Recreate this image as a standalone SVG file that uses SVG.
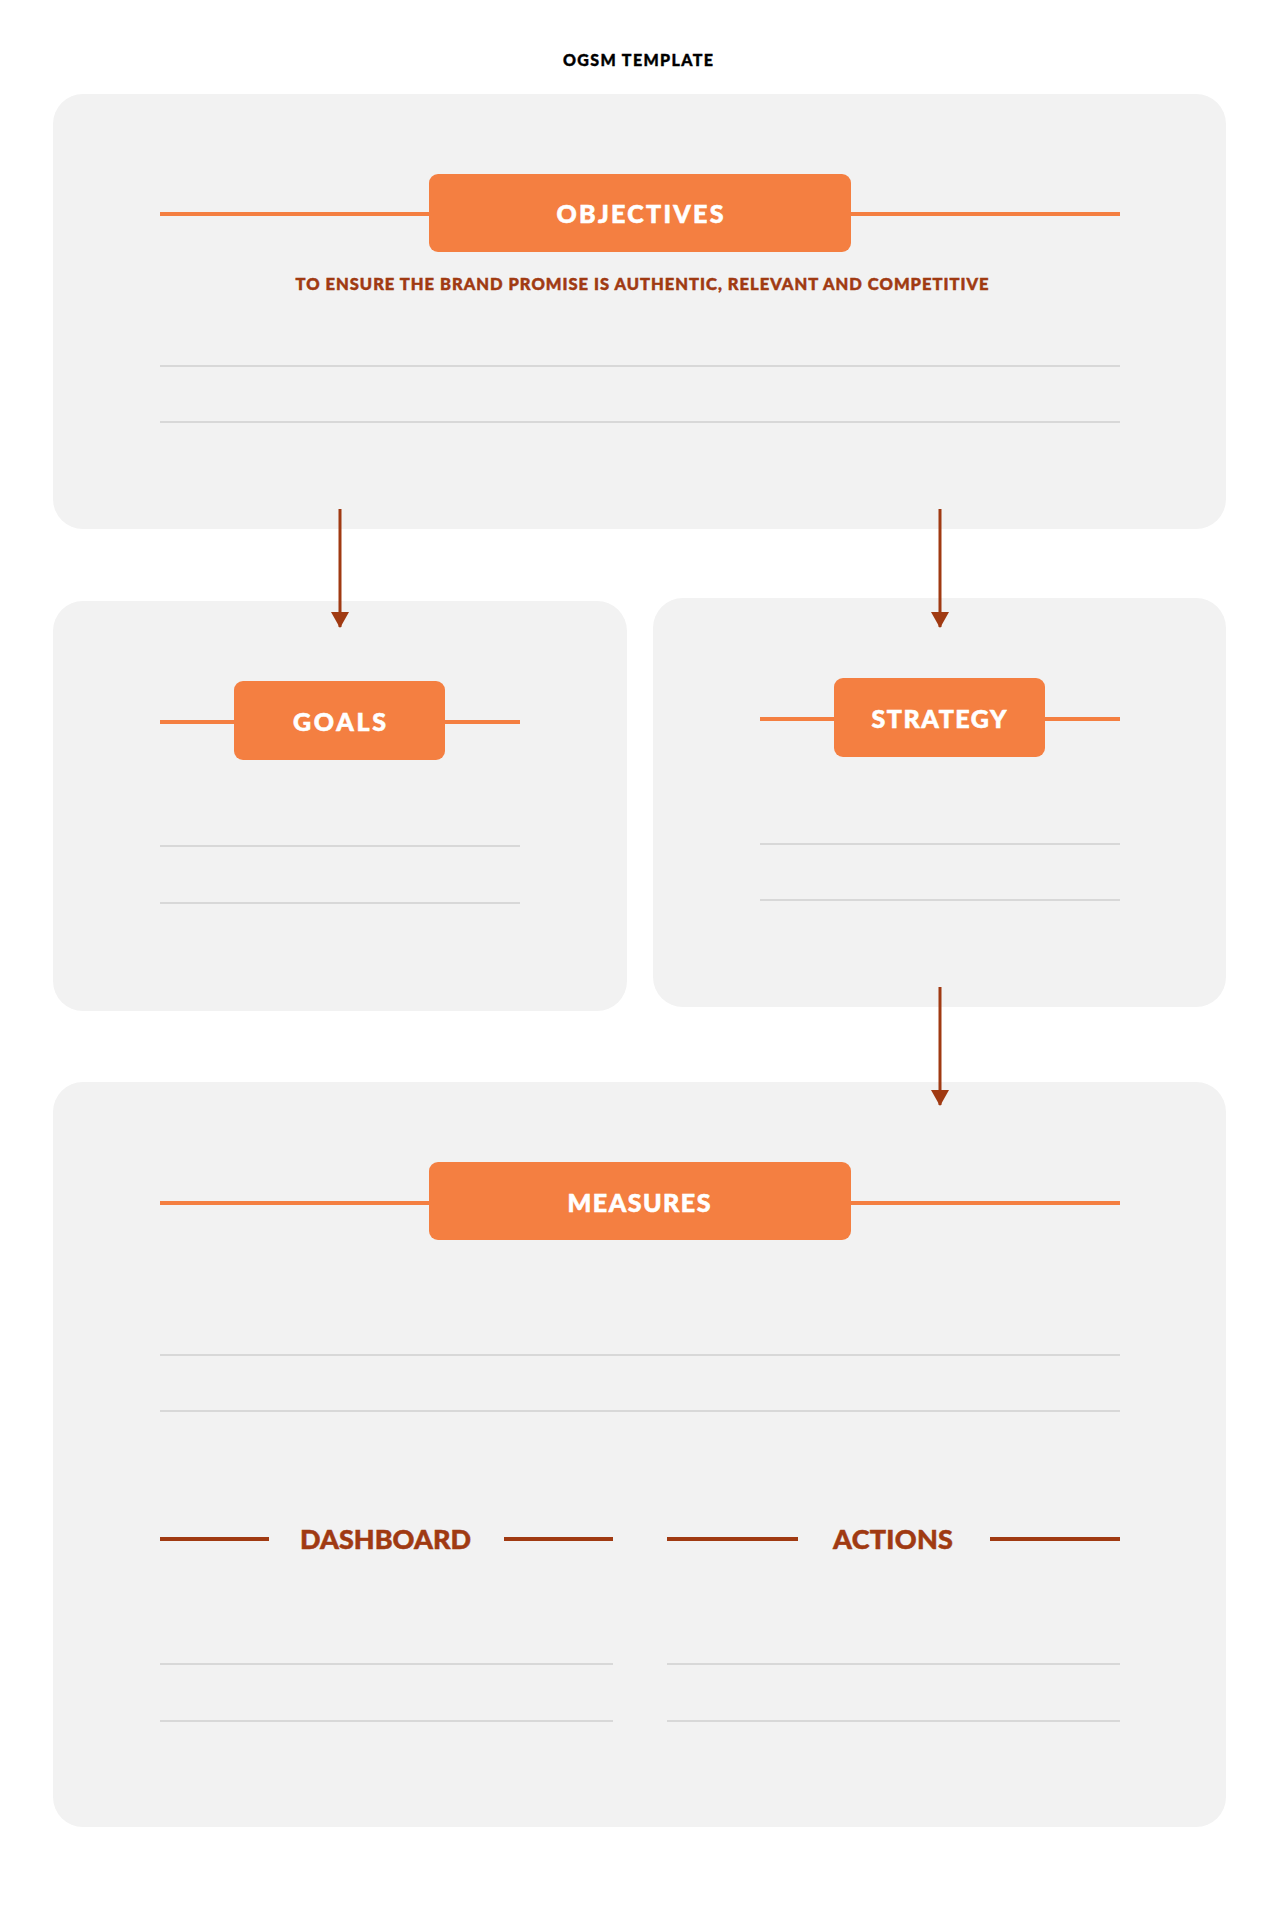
<svg xmlns="http://www.w3.org/2000/svg" width="1280" height="1920" viewBox="0 0 1280 1920">
<defs>
<style>
.panel{fill:#F2F2F2}
.hdr{fill:#F47F41}
.oline{stroke:#F47F41;stroke-width:4;fill:none}
.rline{stroke:#A03A12;stroke-width:4;fill:none}
.gline{stroke:#D8D8D8;stroke-width:2;fill:none}
.conn{stroke:#A03A12;stroke-width:3;fill:none}
.t{font-family:Lato,"Liberation Sans","DejaVu Sans",sans-serif;font-weight:900;text-anchor:middle}
.w{fill:#FFFFFF;stroke:#FFFFFF;stroke-width:0.6px;font-size:25px}
.r{fill:#A03A12;stroke:#A03A12;stroke-width:0.5px}
</style>
<marker id="ah" viewBox="0 0 16 18" refX="15" refY="9" markerWidth="16" markerHeight="18" markerUnits="userSpaceOnUse" orient="auto">
<path d="M0,0 L16,9 L0,18 Z" fill="#A03A12"/>
</marker>
</defs>
<rect width="1280" height="1920" fill="#FFFFFF"/>
<text class="t" x="638" y="66" font-size="16" fill="#000000" stroke="#000000" stroke-width="0.4" textLength="150" lengthAdjust="spacing">OGSM TEMPLATE</text>

<g id="objectives">
<rect class="panel" x="53" y="94" width="1173" height="435" rx="30"/>
<line class="oline" x1="160" y1="214" x2="1120" y2="214"/>
<rect class="hdr" x="429" y="174" width="422" height="78" rx="9"/>
<text class="t w" x="640" y="223" textLength="167" lengthAdjust="spacing">OBJECTIVES</text>
<text class="t r" x="642" y="290" font-size="16.5" textLength="693" lengthAdjust="spacing">TO ENSURE THE BRAND PROMISE IS AUTHENTIC, RELEVANT AND COMPETITIVE</text>
<line class="gline" x1="160" y1="366" x2="1120" y2="366"/>
<line class="gline" x1="160" y1="422" x2="1120" y2="422"/>
</g>

<g id="goals">
<rect class="panel" x="53" y="601" width="574" height="410" rx="30"/>
<line class="oline" x1="160" y1="722" x2="520" y2="722"/>
<rect class="hdr" x="234" y="681" width="211" height="79" rx="9"/>
<text class="t w" x="339.5" y="731" textLength="93" lengthAdjust="spacing">GOALS</text>
<line class="gline" x1="160" y1="846" x2="520" y2="846"/>
<line class="gline" x1="160" y1="903" x2="520" y2="903"/>
</g>

<g id="strategy">
<rect class="panel" x="653" y="598" width="573" height="409" rx="30"/>
<line class="oline" x1="760" y1="719" x2="1120" y2="719"/>
<rect class="hdr" x="834" y="678" width="211" height="79" rx="9"/>
<text class="t w" x="939" y="728" textLength="135" lengthAdjust="spacing">STRATEGY</text>
<line class="gline" x1="760" y1="844" x2="1120" y2="844"/>
<line class="gline" x1="760" y1="900" x2="1120" y2="900"/>
</g>

<g id="measures">
<rect class="panel" x="53" y="1082" width="1173" height="745" rx="30"/>
<line class="oline" x1="160" y1="1203" x2="1120" y2="1203"/>
<rect class="hdr" x="429" y="1162" width="422" height="78" rx="9"/>
<text class="t w" x="639" y="1212" textLength="143" lengthAdjust="spacing">MEASURES</text>
<line class="gline" x1="160" y1="1355" x2="1120" y2="1355"/>
<line class="gline" x1="160" y1="1411" x2="1120" y2="1411"/>
</g>

<g id="dashboard">
<line class="rline" x1="160" y1="1539" x2="269" y2="1539"/>
<line class="rline" x1="504" y1="1539" x2="613" y2="1539"/>
<text class="t r" x="385.5" y="1549" font-size="27" textLength="171" lengthAdjust="spacing">DASHBOARD</text>
<line class="gline" x1="160" y1="1664" x2="613" y2="1664"/>
<line class="gline" x1="160" y1="1721" x2="613" y2="1721"/>
</g>

<g id="actions">
<line class="rline" x1="667" y1="1539" x2="798" y2="1539"/>
<line class="rline" x1="990" y1="1539" x2="1120" y2="1539"/>
<text class="t r" x="893" y="1549" font-size="27" textLength="120" lengthAdjust="spacing">ACTIONS</text>
<line class="gline" x1="667" y1="1664" x2="1120" y2="1664"/>
<line class="gline" x1="667" y1="1721" x2="1120" y2="1721"/>
</g>

<g id="connectors">
<line class="conn" x1="340" y1="509" x2="340" y2="627" marker-end="url(#ah)"/>
<line class="conn" x1="940" y1="509" x2="940" y2="627" marker-end="url(#ah)"/>
<line class="conn" x1="940" y1="987" x2="940" y2="1105" marker-end="url(#ah)"/>
</g>
</svg>
